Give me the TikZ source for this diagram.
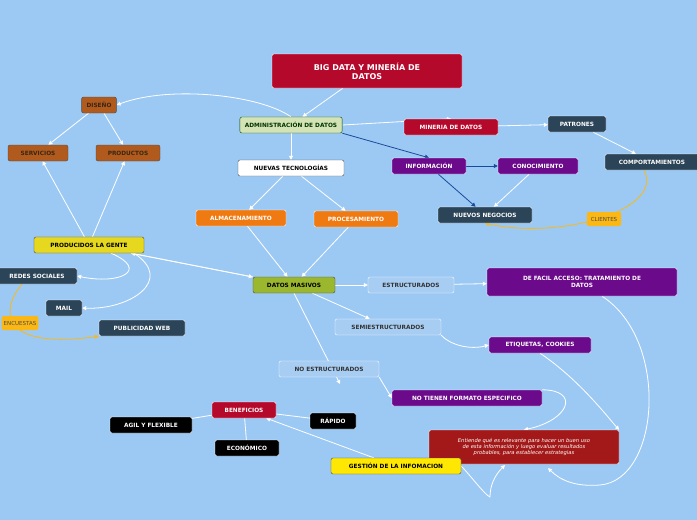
\documentclass[tikz,border=0pt]{standalone}
\usepackage{fontspec}
\setmainfont{DejaVu Sans}
\usetikzlibrary{arrows.meta}
\pgfdeclarelayer{bgl}\pgfdeclarelayer{edges}
\pgfsetlayers{bgl,edges,main}
\definecolor{bg}{HTML}{9CC9F4}
\definecolor{cred}{HTML}{B5092B}
\definecolor{cgreen}{HTML}{D4E3B5}
\definecolor{corange}{HTML}{F07A12}
\definecolor{colive}{HTML}{9BB72E}
\definecolor{cbrown}{HTML}{B05A1E}
\definecolor{cyel}{HTML}{E5D81E}
\definecolor{cslate}{HTML}{2C4457}
\definecolor{cgold}{HTML}{FBB814}
\definecolor{cpurple}{HTML}{6B0A8A}
\definecolor{clb}{HTML}{A8CDF2}
\definecolor{cblue}{HTML}{1A4A9A}
\tikzset{
 bx/.style={rounded corners=2pt,font=\bfseries\fontsize{5.8}{6.8}\selectfont,inner xsep=5pt,minimum height=16pt,align=center},
 wt/.style={bx,draw=white,fill=#1,text=white},
 dk/.style={bx,draw=black!70,fill=#1,text=black},
 con/.style={white,line width=0.8pt,-{Triangle[length=4pt,width=4pt]}},
 bcon/.style={cblue,line width=0.8pt,-{Triangle[length=4pt,width=4pt]}},
 ocon/.style={cgold,line width=0.8pt,-{Triangle[length=4pt,width=4pt]}},
 lin/.style={white,line width=0.8pt},
}
\begin{document}
\begin{tikzpicture}[x=1pt,y=-1pt]
\useasboundingbox (0,0) rectangle (697,520);
\clip (0,0) rectangle (697,520);
\begin{pgfonlayer}{bgl}\fill[bg] (0,0) rectangle (697,520);\end{pgfonlayer}
\node[wt=cred,minimum width=190pt,minimum height=34pt,font=\bfseries\fontsize{8}{9}\selectfont] (title) at (367,71) {BIG DATA Y MINERÍA DE\\DATOS};
\node[bx,draw=green!30!black,fill=cgreen,text=green!20!black] (admin) at (291,125) {ADMINISTRACIÓN DE DATOS};
\node[bx,draw=black!70,fill=white,minimum width=106pt] (nt) at (291,168) {NUEVAS TECNOLOGÍAS};
\node[wt=corange,minimum width=90pt] (alm) at (241,218) {ALMACENAMIENTO};
\node[wt=corange,minimum width=84pt] (pro) at (356,219) {PROCESAMIENTO};
\node[dk=colive,minimum width=82pt] (dm) at (294,285) {DATOS MASIVOS};
\node[dk=cbrown,text=black!70!brown] (dis) at (99,105) {DISEÑO};
\node[dk=cbrown,text=black!70!brown,minimum width=60pt] (ser) at (38,153) {SERVICIOS};
\node[dk=cbrown,text=black!70!brown,minimum width=64pt] (prod) at (128,153) {PRODUCTOS};
\node[dk=cyel,minimum width=110pt] (pg) at (89,245) {PRODUCIDOS LA GENTE};
\node[wt=cslate,minimum width=80pt] (red) at (37,276) {REDES SOCIALES};
\node[wt=cslate,minimum width=36pt] (mail) at (64,308) {MAIL};
\node[bx,fill=cgold,text=black!70,font=\fontsize{5.5}{6.5}\selectfont,inner xsep=2pt,minimum height=14pt] (enc) at (20,323) {ENCUESTAS};
\node[wt=cslate,minimum width=86pt] (pub) at (142,328) {PUBLICIDAD WEB};
\node[wt=cred,minimum width=94pt] (min) at (451,127) {MINERIA DE DATOS};
\node[wt=cslate,minimum width=58pt] (pat) at (577,124) {PATRONES};
\node[wt=cslate,minimum width=94pt] (com) at (652,162) {COMPORTAMIENTOS};
\node[wt=cpurple,minimum width=74pt] (inf) at (429,166) {INFORMACIÓN};
\node[wt=cpurple,minimum width=80pt] (cono) at (538,166) {CONOCIMIENTO};
\node[wt=cslate,minimum width=94pt] (nn) at (485,215) {NUEVOS NEGOCIOS};
\node[bx,fill=cgold,text=black!70,font=\fontsize{5.5}{6.5}\selectfont,inner xsep=4pt,minimum height=14pt] (cli) at (604,219) {CLIENTES};
\node[bx,draw=white,fill=clb,text=black!80,minimum width=86pt] (est) at (411,285) {ESTRUCTURADOS};
\node[wt=cpurple,minimum width=190pt,minimum height=28pt] (fac) at (582,282) {DE FACIL ACCESO: TRATAMIENTO DE\\DATOS};
\node[bx,draw=white,fill=clb,text=black!80,minimum width=106pt] (semi) at (388,327) {SEMIESTRUCTURADOS};
\node[wt=cpurple,minimum width=102pt] (eti) at (540,345) {ETIQUETAS, COOKIES};
\node[bx,draw=white,fill=clb,text=black!80,minimum width=100pt] (noe) at (329,369) {NO ESTRUCTURADOS};
\node[wt=cpurple,minimum width=150pt] (not) at (467,398) {NO TIENEN FORMATO ESPECIFICO};
\node[wt=cred,fill=red!60!black!90,minimum width=190pt,minimum height=34pt,font=\itshape\fontsize{5.2}{6.2}\selectfont] (ent) at (524,447) {Entiende qué es relevante para hacer un buen uso\\de esta información y luego evaluar resultados\\probables, para establecer estrategias};
\node[dk=yellow!90!orange,minimum width=130pt] (ges) at (396,466) {GESTIÓN DE LA INFOMACION};
\node[wt=cred,minimum width=64pt] (ben) at (244,410) {BENEFICIOS};
\node[wt=black,minimum width=46pt] (rap) at (333,421) {RÁPIDO};
\node[wt=black,minimum width=82pt] (agil) at (151,425) {AGIL Y FLEXIBLE};
\node[wt=black,minimum width=64pt] (eco) at (247,448) {ECONÓMICO};
\begin{pgfonlayer}{edges}
\draw[con] (title) -- (admin);
\draw[con] (admin.north) .. controls (260,95) and (170,85) .. (dis.east);
\draw[con] (dis) -- (ser);
\draw[con] (dis) -- (prod);
\draw[con] (pg) -- (ser);
\draw[con] (pg) -- (prod);
\draw[con] (pg.south) ++(22,0) .. controls (150,270) and (120,285) .. (red.east);
\draw[con] (pg.south) ++(45,0) .. controls (175,280) and (130,310) .. (mail.east);
\draw[con] (pg) -- (dm);
\draw[con] (dm) -- (pg);
\draw[ocon] (red.south) ++(-15,0) .. controls (0,310) and (0,350) .. (pub.south west);
\draw[con] (admin) -- (nt);
\draw[con] (nt) -- (alm);
\draw[con] (nt) -- (pro);
\draw[con] (alm) -- (dm);
\draw[con] (pro) -- (dm);
\draw[con] (admin.east) -- (min.north);
\draw[bcon] (admin.south east) -- (inf.north);
\draw[con] (min) -- (pat);
\draw[con] (pat) -- (com);
\draw[bcon] (inf) -- (cono);
\draw[bcon] (inf) -- (nn);
\draw[con] (cono) -- (nn);
\draw[ocon] (com.south) ++(-8,0) .. controls (665,210) and (560,240) .. (nn.south);
\draw[con] (dm) -- (est);
\draw[con] (est) -- (fac);
\draw[con] (dm) -- (semi);
\draw[con] (dm.south) -- (340,384);
\draw[con] (semi.south east) .. controls (450,345) and (470,350) .. (eti.west);
\draw[con] (noe.south east) -- (not.west);
\draw[con] (not.north east) .. controls (580,390) and (570,420) .. (ent.north);
\draw[con] (eti.south) .. controls (580,380) and (610,420) .. (ent.north east);
\draw[con] (fac.south) ++(20,0) .. controls (670,340) and (660,480) .. (600,485) .. controls (575,487) and (560,480) .. (548,468);
\draw[con] (ges.east) .. controls (470,475) and (485,495) .. (490,497) .. controls (490,485) and (495,475) .. (505,465);
\draw[con] (ges) -- (ben);
\draw[lin] (ben) -- (agil);
\draw[lin] (ben) -- (rap);
\draw[lin] (ben) -- (eco);
\end{pgfonlayer}
\end{tikzpicture}
\end{document}
